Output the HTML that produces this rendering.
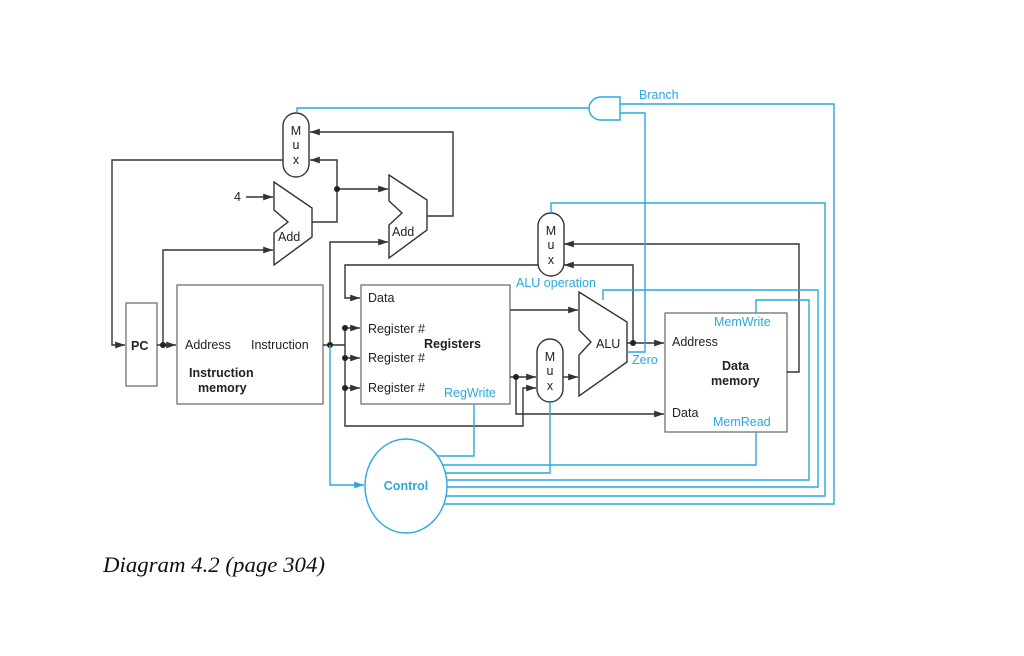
<!DOCTYPE html>
<html><head><meta charset="utf-8"><style>
html,body{margin:0;padding:0;background:#fff;}
svg{display:block;}
text{font-family:"Liberation Sans",sans-serif;font-size:12.5px;fill:#222;}
.b{fill:#29a9df;}
.bold{font-weight:bold;}
</style></head><body>
<svg width="1024" height="656" viewBox="0 0 1024 656" xmlns="http://www.w3.org/2000/svg">
<defs>
<marker id="a" viewBox="0 0 10 10" refX="10" refY="5" markerWidth="7" markerHeight="7" orient="auto"><path d="M0,1.5 L10,5 L0,8.5 z" fill="#333"/></marker>
<marker id="ab" viewBox="0 0 10 10" refX="10" refY="5" markerWidth="7" markerHeight="7" orient="auto"><path d="M0,1.5 L10,5 L0,8.5 z" fill="#29a9df"/></marker>
</defs>
<g fill="none" stroke="#333" stroke-width="1.4">
<rect x="126" y="303" width="31" height="83" stroke="#666" stroke-width="1.2"/>
<rect x="177" y="285" width="146" height="119" stroke="#666" stroke-width="1.2"/>
<rect x="361" y="285" width="149" height="119" stroke="#666" stroke-width="1.2"/>
<rect x="665" y="313" width="122" height="119" stroke="#666" stroke-width="1.2"/>
<path d="M274,182 L312,208 L312,237 L274,265 L274,233 L288,222 L274,210 Z"/>
<path d="M389,175 L427,200 L427,230 L389,258 L389,225 L402,213 L389,201 Z"/>
<path d="M579,292 L627,322 L627,362 L579,396 L579,355 L591,342 L579,330 Z"/>
<rect x="283" y="113" width="26" height="64" rx="13"/>
<rect x="538" y="213" width="26" height="63" rx="13"/>
<rect x="537" y="339" width="26" height="63" rx="13"/>
<path d="M283,160 H112 V345 H125" marker-end="url(#a)"/>
<path d="M157,345 H176" marker-end="url(#a)"/>
<path d="M163,345 V250 H273" marker-end="url(#a)"/>
<path d="M246,197 H273" marker-end="url(#a)"/>
<path d="M312,222 H337 V160 H310" marker-end="url(#a)"/>
<path d="M337,189 H388" marker-end="url(#a)"/>
<path d="M427,216 H453 V132 H310" marker-end="url(#a)"/>
<path d="M323,345 H345"/>
<path d="M330,345 V242 H388" marker-end="url(#a)"/>
<path d="M345,328 V426 H523 V388 H536" marker-end="url(#a)"/>
<path d="M345,328 H360" marker-end="url(#a)"/>
<path d="M345,358 H360" marker-end="url(#a)"/>
<path d="M345,388 H360" marker-end="url(#a)"/>
<path d="M510,310 H578" marker-end="url(#a)"/>
<path d="M510,377 H536" marker-end="url(#a)"/>
<path d="M516,377 V414 H664" marker-end="url(#a)"/>
<path d="M563,377 H578" marker-end="url(#a)"/>
<path d="M627,343 H664" marker-end="url(#a)"/>
<path d="M633,343 V265 H564" marker-end="url(#a)"/>
<path d="M538,265 H345 V298 H360" marker-end="url(#a)"/>
<path d="M787,372 H799 V244 H564" marker-end="url(#a)"/>
</g>
<g fill="#222">
<circle cx="163" cy="345" r="3"/><circle cx="330" cy="345" r="3"/><circle cx="337" cy="189" r="3"/>
<circle cx="345" cy="328" r="3"/><circle cx="345" cy="358" r="3"/><circle cx="345" cy="388" r="3"/>
<circle cx="516" cy="377" r="3"/><circle cx="633" cy="343" r="3"/>
</g>
<g fill="none" stroke="#29a9df" stroke-width="1.4">
<ellipse cx="406" cy="486" rx="41" ry="47"/>
<path d="M620,97 H601 A12,11.5 0 0 0 601,120 H620 Z"/>
<path d="M589,108 H297 V113"/>
<path d="M620,104 H834 V504 H444"/>
<path d="M620,113 H645 V352 H627"/>
<path d="M330,345 V485 H364" marker-end="url(#ab)"/>
<path d="M551,213 V203 H825 V496 H446"/>
<path d="M603,300 V290 H818 V487 H447"/>
<path d="M756,313 V300 H809 V480 H447"/>
<path d="M756,432 V465 H443"/>
<path d="M550,402 V473 H446"/>
<path d="M474,404 V456 H437"/>
</g>
<text x="296" y="135" text-anchor="middle">M</text>
<text x="296" y="149" text-anchor="middle">u</text>
<text x="296" y="164" text-anchor="middle">x</text>
<text x="551" y="235" text-anchor="middle">M</text>
<text x="551" y="249" text-anchor="middle">u</text>
<text x="551" y="264" text-anchor="middle">x</text>
<text x="550" y="361" text-anchor="middle">M</text>
<text x="550" y="375" text-anchor="middle">u</text>
<text x="550" y="390" text-anchor="middle">x</text>
<text x="234" y="201">4</text>
<text x="278" y="241">Add</text>
<text x="392" y="236">Add</text>
<text x="596" y="348">ALU</text>
<text x="131" y="350" class="bold">PC</text>
<text x="185" y="349">Address</text>
<text x="251" y="349">Instruction</text>
<text x="189" y="377" class="bold">Instruction</text>
<text x="198" y="392" class="bold">memory</text>
<text x="368" y="302">Data</text>
<text x="368" y="333">Register #</text>
<text x="424" y="348" class="bold">Registers</text>
<text x="368" y="362">Register #</text>
<text x="368" y="392">Register #</text>
<text x="444" y="397" class="b">RegWrite</text>
<text x="516" y="287" class="b">ALU operation</text>
<text x="632" y="364" class="b">Zero</text>
<text x="639" y="99" class="b">Branch</text>
<text x="714" y="326" class="b">MemWrite</text>
<text x="672" y="346">Address</text>
<text x="722" y="370" class="bold">Data</text>
<text x="711" y="385" class="bold">memory</text>
<text x="672" y="417">Data</text>
<text x="713" y="426" class="b">MemRead</text>
<text x="406" y="490" text-anchor="middle" class="b bold">Control</text>
<text x="103" y="572" textLength="222" lengthAdjust="spacingAndGlyphs" style="font-family:'Liberation Serif',serif;font-style:italic;font-size:22.5px;fill:#111;">Diagram 4.2 (page 304)</text>
</svg>
</body></html>
